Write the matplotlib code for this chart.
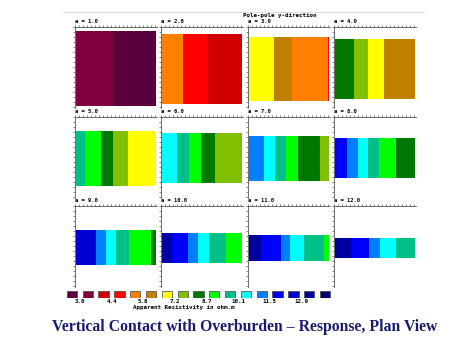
import numpy as np
import matplotlib
matplotlib.use("Agg")
import matplotlib.pyplot as plt
from matplotlib.colors import ListedColormap, BoundaryNorm

# spacing values a for each panel
spacings = [1.0, 2.0, 3.0, 4.0, 5.0, 6.0, 7.0, 8.0, 9.0, 10.0, 11.0, 12.0]

# apparent resistivity class boundaries (ohm.m) and colours
legend_levels = [3.0, 3.7, 4.4, 5.1, 5.8, 6.5, 7.2, 7.9, 8.7, 9.4,
                 10.1, 10.8, 11.5, 12.2, 12.9, 13.6]
legend_colors = ["#5a003c", "#800040", "#d00000", "#ff0000", "#ff8000",
                 "#c08000", "#ffff00", "#80c000", "#007800", "#00ff00",
                 "#00c088", "#00ffff", "#0080ff", "#0000ff", "#0000d0",
                 "#0000a0", "#000070"]

# profile positions where the contour class changes, per panel
seg_edges = [
    [0, 37, 80],
    [0, 21, 45, 80],
    [0, 25, 43, 79, 80],
    [0, 19, 33, 49, 80],
    [0, 9, 25, 37, 52, 80],
    [0, 15, 27, 39, 53, 80],
    [0, 15, 26, 37, 49, 71, 80],
    [0, 12, 23, 33, 44, 61, 80],
    [0, 20, 30, 40, 53, 75, 80],
    [0, 10, 26, 36, 47, 64, 80],
    [0, 12, 32, 41, 55, 75, 80],
    [0, 16, 34, 45, 61, 80],
]
# apparent resistivity of each segment
seg_rho = [
    [3.4, 2.6],
    [5.5, 4.8, 4.1],
    [6.9, 6.2, 5.5, 4.8],
    [8.3, 7.6, 6.9, 6.2],
    [9.7, 9.0, 8.3, 7.6, 6.9],
    [10.4, 9.7, 9.0, 8.3, 7.6],
    [11.1, 10.4, 9.7, 9.0, 8.3, 7.6],
    [11.8, 11.1, 10.4, 9.7, 9.0, 8.3],
    [12.6, 11.1, 10.4, 9.7, 9.0, 8.3],
    [13.3, 11.8, 11.1, 10.4, 9.7, 9.0],
    [13.3, 11.8, 11.1, 10.4, 9.7, 9.0],
    [13.3, 11.8, 11.1, 10.4, 9.7],
]
# width of the data coverage across the profile for each a
coverage = [75, 70, 64, 60, 55, 50, 45, 40, 35, 30, 26, 20]

W, H = 474, 355
fig = plt.figure(figsize=(W / 100, H / 100), dpi=100)
mono = dict(family="DejaVu Sans Mono", weight="bold")


def px_axes(x0, y0, w, h):
    return fig.add_axes([x0 / W, 1 - (y0 + h) / H, w / W, h / H])


cmap = ListedColormap(legend_colors)
norm = BoundaryNorm([0] + legend_levels + [20], ncolors=len(legend_colors))

for i, a in enumerate(spacings):
    r, c = divmod(i, 4)
    ax = px_axes(75 + 86.3 * c, 27 + 89.5 * r, 82, 81)
    mid = 41.5
    h = coverage[i]
    ax.pcolormesh(seg_edges[i], [mid - h / 2, mid + h / 2],
                  np.array(seg_rho[i])[None, :], cmap=cmap, norm=norm,
                  shading="flat")
    ax.set_xlim(-1, 81)
    ax.set_ylim(81, 0)
    ax.xaxis.tick_top()
    ax.set_xticks(np.arange(-1, 82, 4))
    ax.set_yticks(np.arange(0, 82, 5))
    ax.set_xticklabels([])
    ax.set_yticklabels([])
    ax.tick_params(direction="out", length=1.5, width=0.5, colors="#555555")
    for s in ("right", "bottom"):
        ax.spines[s].set_visible(False)
    for s in ("left", "top"):
        ax.spines[s].set_linewidth(0.6)
        ax.spines[s].set_color("#555555")
    ax.text(0, 1.035, "a = %.1f" % a, transform=ax.transAxes, fontsize=4,
            va="bottom", ha="left", **mono)

# header
fig.add_artist(plt.Line2D([63 / W, 424 / W], [1 - 12 / H, 1 - 12 / H],
                          color="#dddddd", lw=0.8))
fig.text(243 / W, 1 - 16 / H, "Pole-pole y-direction", fontsize=4.2,
         va="center", ha="left", **mono)

# colour legend
lax = px_axes(64, 291, 269, 7)
idx = np.arange(len(legend_colors))
lax.bar(idx, np.ones(len(idx)), width=0.65, color=legend_colors,
        edgecolor="#444444", linewidth=0.5)
lax.set_xlim(-0.5, len(idx) - 0.5)
lax.set_ylim(0, 1)
lax.set_yticks([])
lax.set_xticks(idx[:-1:2] + 0.5)
lax.set_xticklabels(["%.1f" % v for v in legend_levels[::2]], fontsize=4.2,
                    **mono)
lax.tick_params(length=0, pad=1)
for s in lax.spines.values():
    s.set_visible(False)
fig.text(133 / W, 1 - 307 / H, "Apparent Resistivity in ohm.m",
         fontsize=4.2, va="center", ha="left", **mono)

fig.text(245 / W, 1 - 327 / H,
         "Vertical Contact with Overburden \u2013 Response, Plan View",
         fontsize=11.3, family="Liberation Serif", weight="bold",
         color="#1a1a6e", ha="center", va="center")

fig.savefig("out.png", dpi=100)
